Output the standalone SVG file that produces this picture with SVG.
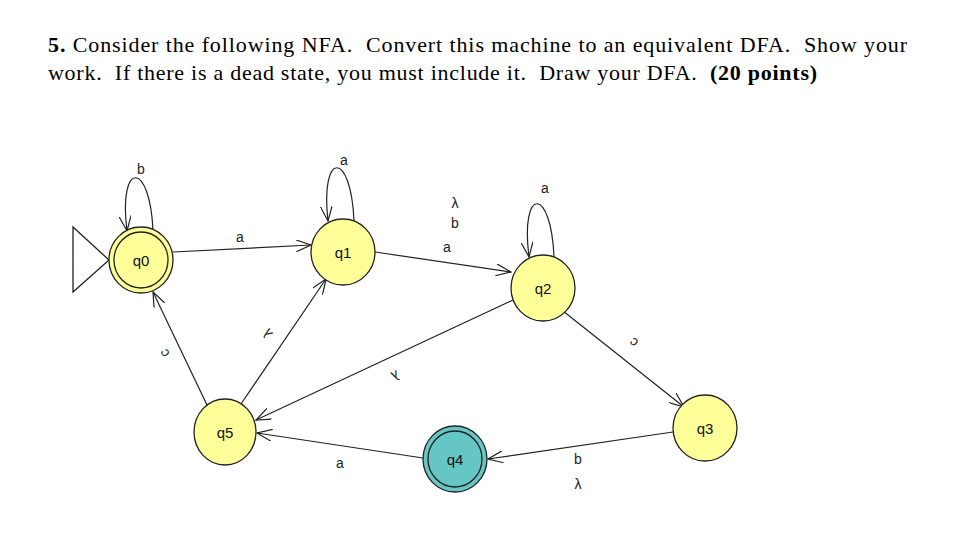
<svg xmlns="http://www.w3.org/2000/svg" width="959" height="536" viewBox="0 0 959 536">
<defs>
<marker id="ah" markerWidth="16" markerHeight="12" refX="15" refY="6" orient="auto" markerUnits="userSpaceOnUse">
<path d="M0,0 L15,6 L0,12" fill="none" stroke="#222" stroke-width="1.2"/>
</marker>
<style>
.hdr{font-family:"Liberation Serif",serif;font-size:22px;fill:#000}
.lbl{font-family:"Liberation Sans",Arial,sans-serif;font-size:14px;fill:#222;text-anchor:middle}
.nl{font-family:"Liberation Sans",Arial,sans-serif;font-size:15px;fill:#111;text-anchor:middle}
.st{fill:#ffff99;stroke:#222;stroke-width:1.3}
.acc{fill:#66c6c6;stroke:#222;stroke-width:1.3}
.e{fill:none;stroke:#222;stroke-width:1.2;marker-end:url(#ah)}
</style>
</defs>
<rect width="959" height="536" fill="#fff"/>
<text class="hdr" x="48" y="52" textLength="859" lengthAdjust="spacing" xml:space="preserve"><tspan font-weight="bold">5.</tspan> Consider the following NFA.  Convert this machine to an equivalent DFA.  Show your</text>
<text class="hdr" x="48" y="80" textLength="769" lengthAdjust="spacing" xml:space="preserve">work.  If there is a dead state, you must include it.  Draw your DFA.  <tspan font-weight="bold">(20 points)</tspan></text>
<g id="connectors">
<path class="e" d="M153,231 C150,160 118,160 127,231"/>
<path class="e" d="M354,221 C351,150 320,150 328,221"/>
<path class="e" d="M554,257 C551,186 520,186 529,257"/>
<path class="e" d="M173,252 L311,245"/>
<path class="e" d="M375,252 L511,272"/>
<path class="e" d="M563,311 L684,407"/>
<path class="e" d="M513,300 L256,420"/>
<path class="e" d="M241,404 L326,279"/>
<path class="e" d="M207,405 L153,292"/>
<path class="e" d="M673,432 L488,459"/>
<path class="e" d="M423,458 L257,433"/>
<text class="lbl" x="141" y="174">b</text>
<text class="lbl" x="344" y="165">a</text>
<text class="lbl" x="545" y="193">a</text>
<text class="lbl" x="240" y="242">a</text>
<text class="lbl" x="455" y="208">λ</text>
<text class="lbl" x="455" y="228">b</text>
<text class="lbl" x="447" y="252">a</text>
<text class="lbl" x="634" y="346" transform="rotate(-140 634 342)">c</text>
<text class="lbl" x="395" y="379" transform="rotate(155 395 375)">λ</text>
<text class="lbl" x="268" y="337" transform="rotate(-125 268 333)">λ</text>
<text class="lbl" x="165" y="357" transform="rotate(-115 165 353)">c</text>
<text class="lbl" x="578" y="464">b</text>
<text class="lbl" x="578" y="489">λ</text>
<text class="lbl" x="340" y="468">a</text>
</g>
<g id="start"><polygon points="73,227 73,292 109,260" fill="none" stroke="#222" stroke-width="1.3"/></g>
<g id="q0"><ellipse class="st" cx="141" cy="260" rx="32" ry="33"/><ellipse cx="141" cy="260" rx="27" ry="28" fill="none" stroke="#222" stroke-width="1.3"/><text class="nl" x="141" y="266">q0</text></g>
<g id="q1"><ellipse class="st" cx="343" cy="252" rx="32" ry="33"/><text class="nl" x="343" y="258">q1</text></g>
<g id="q2"><ellipse class="st" cx="543" cy="288" rx="32" ry="33"/><text class="nl" x="543" y="294">q2</text></g>
<g id="q3"><ellipse class="st" cx="705" cy="428" rx="32" ry="33"/><text class="nl" x="705" y="434">q3</text></g>
<g id="q4"><ellipse class="acc" cx="455" cy="459" rx="32" ry="33"/><ellipse cx="455" cy="459" rx="27" ry="28" fill="none" stroke="#222" stroke-width="1.3"/><text class="nl" x="455" y="465">q4</text></g>
<g id="q5"><ellipse class="st" cx="225" cy="432" rx="31" ry="33"/><text class="nl" x="225" y="438">q5</text></g>
</svg>
